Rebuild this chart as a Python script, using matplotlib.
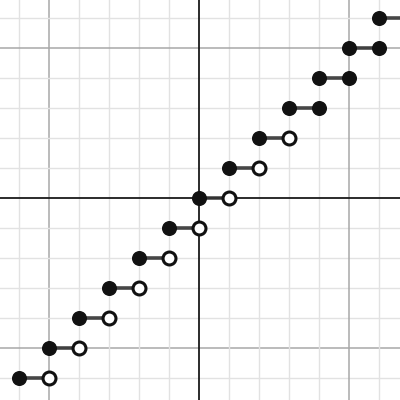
import matplotlib
matplotlib.use("Agg")
import matplotlib.pyplot as plt
import numpy as np

# Step function data: each step from x_start to x_end at level y
step_start = [-6, -5, -4, -3, -2, -1, 0, 1, 2, 3, 4, 5, 6]
step_end = [-5, -4, -3, -2, -1, 0, 1, 2, 3, 4, 5, 6, 7]
step_level = [-6, -5, -4, -3, -2, -1, 0, 1, 2, 3, 4, 5, 6]
right_closed = [False, False, False, False, False, False, False, False, False, True, True, True, True]

fig = plt.figure(figsize=(4, 4), dpi=100)
ax = fig.add_axes([0, 0, 1, 1])
ax.set_xlim(-199 / 30, 201 / 30)
ax.set_ylim(-202 / 30, 198 / 30)

minor_ticks = np.arange(-7, 8, 1)
for v in minor_ticks:
    major = (v % 5 == 0)
    if v == 0:
        continue
    c = "#a8a8a8" if major else "#e2e2e2"
    lw = 1.1 if major else 1.0
    ax.axvline(v, color=c, lw=lw, zorder=0)
    ax.axhline(v, color=c, lw=lw, zorder=0)
ax.axvline(0, color="#1a1a1a", lw=1.3, zorder=1)
ax.axhline(0, color="#1a1a1a", lw=1.3, zorder=1)

for xs, xe, y, rc in zip(step_start, step_end, step_level, right_closed):
    ax.plot([xs, xe], [y, y], color="#333333", lw=2.6, alpha=0.9, zorder=2, solid_capstyle="butt")
    ax.plot([xs], [y], "o", ms=9.8, mfc="#111111", mec="#111111", mew=1, zorder=3)
    if rc:
        ax.plot([xe], [y], "o", ms=9.8, mfc="#111111", mec="#111111", mew=1, zorder=3)
    else:
        ax.plot([xe], [y], "o", ms=9.3, mfc="white", mec="#111111", mew=2.2, zorder=3)

ax.set_axis_off()
fig.savefig("out.png", dpi=100)
